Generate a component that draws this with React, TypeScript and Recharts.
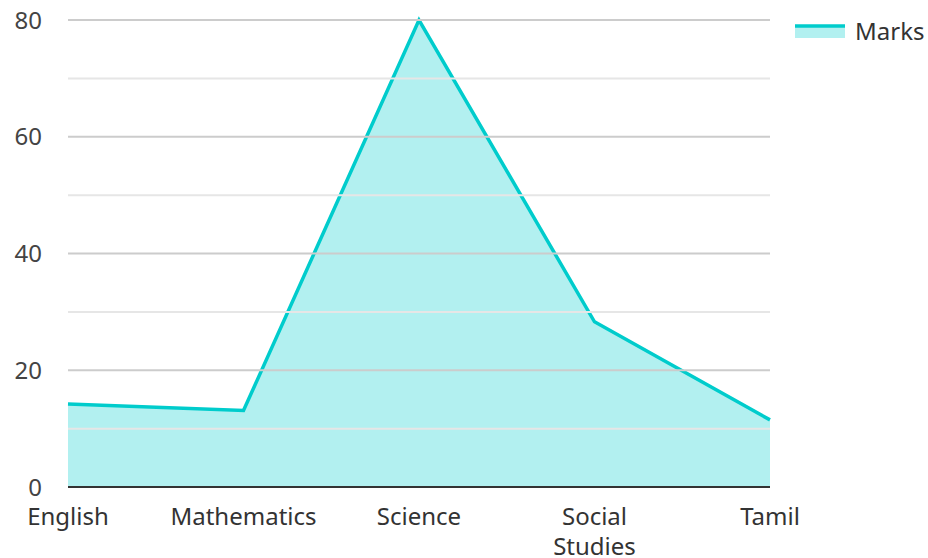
import { AreaChart, Area, XAxis, YAxis, ReferenceLine, Legend } from 'recharts';

const subjects = ['English', 'Mathematics', 'Science', 'Social Studies', 'Tamil'];
const marks = [14.2, 13.1, 80, 28.3, 11.5];
const majorTicks = [0, 20, 40, 60, 80];
const minorTicks = [10, 30, 50, 70];

const data = subjects.map((s, i) => ({ subject: s, marks: marks[i] }));

const FONT = '"Noto Sans", "Open Sans", sans-serif';
const FS = 24;
const LINE = '#00cccc';

// labels with a space wrap onto two lines, like the source chart
// eslint-disable-next-line @typescript-eslint/no-explicit-any
const SubjectTick = (props: any) => {
  const { x, y, payload } = props;
  const lines = String(payload.value).split(' ');
  return (
    <text x={x} y={y + 38} textAnchor="middle" fontSize={FS} fontFamily={FONT} fill="#333">
      {lines.map((l, i) => (
        <tspan key={i} x={x} dy={i === 0 ? 0 : 30}>
          {l}
        </tspan>
      ))}
    </text>
  );
};

const MarksLegend = () => (
  <div style={{ display: 'flex', alignItems: 'center', fontFamily: FONT, fontSize: FS, color: '#333' }}>
    <svg width={50} height={16} style={{ marginRight: 10 }}>
      <rect x={0} y={2} width={50} height={13} fill={LINE} fillOpacity={0.3} />
      <line x1={0} y1={3} x2={50} y2={3} stroke={LINE} strokeWidth={3.5} />
    </svg>
    <span>Marks</span>
  </div>
);

export default function App() {
  return (
    <div style={{ position: 'absolute', left: 0, top: 0, background: '#fff' }}>
      <AreaChart
        width={928}
        height={558}
        data={data}
        margin={{ top: 20, right: 158, left: 8, bottom: 11 }}
      >
        {minorTicks.map((v) => (
          <ReferenceLine key={`m${v}`} y={v} stroke="#e6e6e6" strokeWidth={2} />
        ))}
        {majorTicks.slice(1).map((v) => (
          <ReferenceLine key={`M${v}`} y={v} stroke="#cccccc" strokeWidth={2} />
        ))}
        <Area
          type="linear"
          dataKey="marks"
          name="Marks"
          stroke={LINE}
          strokeWidth={3.5}
          fill={LINE}
          fillOpacity={0.3}
          dot={false}
          activeDot={false}
          isAnimationActive={false}
        />
        <XAxis
          dataKey="subject"
          height={60}
          interval={0}
          tickLine={false}
          tickSize={0}
          tickMargin={0}
          axisLine={{ stroke: '#333', strokeWidth: 2 }}
          tick={<SubjectTick />}
        />
        <YAxis
          width={60}
          domain={[0, 80]}
          ticks={majorTicks}
          axisLine={false}
          tickLine={false}
          tickSize={0}
          tickMargin={26}
          tick={{ fill: '#444', fontSize: FS, fontFamily: FONT }}
        />
        <Legend
          layout="vertical"
          align="center"
          verticalAlign="middle"
          wrapperStyle={{ top: 14, left: 795, width: 140 }}
          content={<MarksLegend />}
        />
      </AreaChart>
    </div>
  );
}
